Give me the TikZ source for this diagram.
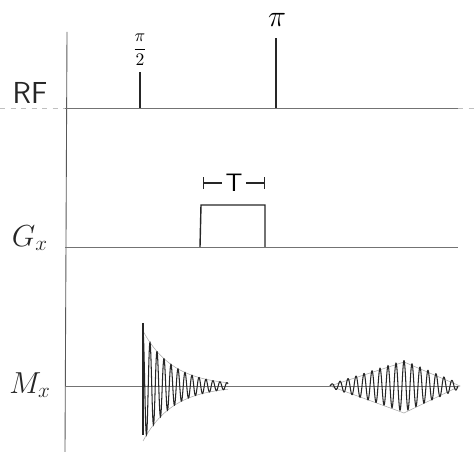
\documentclass[tikz,border=0pt]{standalone}
\usepackage{tikz}
\usetikzlibrary{arrows,positioning}

\begin{document}
\begin{tikzpicture}[x=0.02cm, y=-0.02cm,
  axisline/.style={draw=black!65, line width=0.5pt},
  rowline/.style={draw=black!55, line width=0.45pt},
  pulseline/.style={draw=black!85, line width=0.8pt},
  sigline/.style={draw=black!85, line width=0.6pt},
  envline/.style={draw=black!35, line width=0.3pt},
  rowlabel/.style={font=\LARGE, text=black!85, inner sep=0pt}]
\useasboundingbox (0,0) rectangle (474,452);

% Time axis
\coordinate (axtop) at (67,32);
\coordinate (axbot) at (65,452);
\draw[axisline] (axtop) -- (axbot);

% Rows
\foreach \y/\ly/\name/\lbl in {108/93/rf/{\sffamily RF}, 247/238/gx/{$G_x$}, 386/385/mx/{$M_x$}} {
    \node[rowlabel] (\name-lbl) at (30,\ly) {\lbl};
    \coordinate (\name-start) at (65,\y);
    \coordinate (\name-end) at (458,\y);
    \draw[rowline] (\name-start) -- (\name-end);
}
\draw[rowline, dashed, draw=black!25] (0,108) -- (rf-start);
\draw[rowline, dashed, draw=black!25] (rf-end) -- (474,108);

% RF pulses
\coordinate (halfpi-base) at (140,108);
\coordinate (halfpi-top) at (140,72);
\coordinate (pi-base) at (276,108);
\coordinate (pi-top) at (276,38);
\draw[pulseline] (halfpi-base) -- (halfpi-top);
\draw[pulseline] (pi-base) -- (pi-top);
\node[inner sep=0pt] (halfpi-lbl) at (140,50) {$\displaystyle\frac{\pi}{2}$};
\node[font=\LARGE, inner sep=0pt] (pi-lbl) at (277,20) {$\pi$};

% Gradient lobe
\coordinate (lobe-a) at (200,247);
\coordinate (lobe-b) at (201,205);
\coordinate (lobe-c) at (265,205);
\coordinate (lobe-d) at (265,247);
\draw[pulseline] (lobe-a) -- (lobe-b) -- (lobe-c) -- (lobe-d);

% Duration T
\coordinate (t-left) at (203,183);
\coordinate (t-right) at (265,183);
\draw[pulseline, line width=0.6pt, |-|] (t-left) -- (t-right)
    node[midway, fill=white, inner sep=2pt, font=\Large\sffamily] (t-lbl) {T};

% FID
\draw[envline] plot[domain=143:228, samples=60] (\x, {386-55*exp(-(\x-143)/30)});
\draw[envline] plot[domain=143:228, samples=60] (\x, {386+55*exp(-(\x-143)/30)});
\draw[sigline] plot[domain=143:228, samples=400]
    (\x, {386-55*exp(-(\x-143)/30)*cos((\x-143)/7*360)});
\draw[pulseline] (143,323) -- (143,435);

% Echo
\draw[envline] (330,386) -- (404,362) -- (460,386) -- (404,413) -- cycle;
\draw[sigline] plot[domain=330:458, samples=500]
    (\x, {386-(1.5+24*(\x<404 ? (\x-330)/74 : (462-\x)/58))*sin((\x-330)/8*360)});

\end{tikzpicture}
\end{document}
